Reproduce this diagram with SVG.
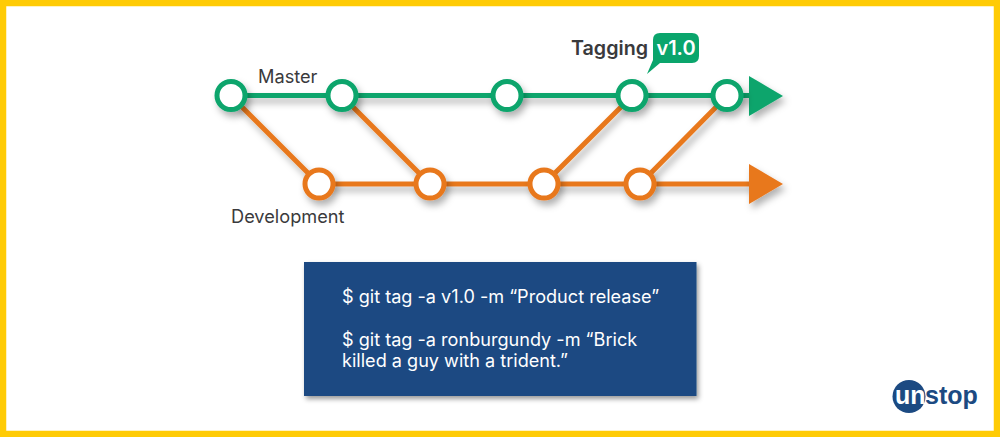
<svg xmlns="http://www.w3.org/2000/svg" width="1000" height="437" viewBox="0 0 1000 437">
<style>
.g{stroke:#0aa56c;fill:none}
.o{stroke:#e8781e;fill:none}
.l{stroke-width:5}
.n{fill:#fff;stroke-width:5}
.lab{font-family:Inter,"Liberation Sans",sans-serif;font-size:18.200px;fill:#3a3a3c}
.cmd{font-family:Inter,"Liberation Sans",sans-serif;font-size:18.100px;fill:#fff}
</style>
<defs>
<filter id="sh" filterUnits="userSpaceOnUse" x="180" y="50" width="640" height="190"><feDropShadow dx="3" dy="5" stdDeviation="3.500" flood-color="#000" flood-opacity="0.3"/></filter>
<filter id="shb" x="-5%" y="-5%" width="110%" height="115%"><feDropShadow dx="2" dy="3" stdDeviation="2.500" flood-color="#000" flood-opacity="0.4"/></filter>
</defs>
<rect width="1000" height="437" fill="#fff"/>
<rect x="3" y="3" width="994" height="431" fill="none" stroke="#ffcb05" stroke-width="6.500"/>
<g id="connectors">
<path class="o l" filter="url(#sh)" d="M231 96L319 184M342 96L430 184M544 184L632 96M640 184L727 96"/>
<path class="o l" filter="url(#sh)" d="M319 184H752"/>
<path class="g l" filter="url(#sh)" d="M231 95.500H752"/>
<polygon filter="url(#sh)" points="749,76 783,96 749,116" fill="#0aa56c"/>
<polygon filter="url(#sh)" points="749,164 783,184 749,204" fill="#e8781e"/>
</g>
<g id="m1"><circle class="g n" cx="231" cy="95.500" r="14" filter="url(#sh)"/></g>
<g id="m2"><circle class="g n" cx="342" cy="95.500" r="14" filter="url(#sh)"/></g>
<g id="m3"><circle class="g n" cx="507" cy="95.500" r="14" filter="url(#sh)"/></g>
<g id="m4"><circle class="g n" cx="632" cy="95.500" r="14" filter="url(#sh)"/></g>
<g id="m5"><circle class="g n" cx="727" cy="95.500" r="14" filter="url(#sh)"/></g>
<g id="d1"><circle class="o n" cx="319" cy="184" r="14" filter="url(#sh)"/></g>
<g id="d2"><circle class="o n" cx="430" cy="184" r="14" filter="url(#sh)"/></g>
<g id="d3"><circle class="o n" cx="544" cy="184" r="14" filter="url(#sh)"/></g>
<g id="d4"><circle class="o n" cx="640" cy="184" r="14" filter="url(#sh)"/></g>
<g id="label-master"><text class="lab" x="258" y="83">Master</text></g>
<g id="label-development"><text class="lab" x="231" y="223">Development</text></g>
<g id="tag">
<text class="lab" x="571" y="55" font-weight="600" style="font-size:19.700px">Tagging</text>
<path d="M660 33H692Q699 33 699 40V56Q699 63 692 63H660L647 74L653 60V40Q653 33 660 33Z" fill="#0aa56c"/>
<text x="676" y="55" text-anchor="middle" font-family="Inter,'Liberation Sans',sans-serif" font-size="20" font-weight="600" fill="#fff">v1.0</text>
</g>
<g id="command-box">
<rect x="304" y="262" width="392.500" height="134" fill="#1c4a82" filter="url(#shb)"/>
<text class="cmd" x="342" y="303">$ git tag -a v1.0 -m “Product release”</text>
<text class="cmd" x="342" y="346">$ git tag -a ronburgundy -m “Brick</text>
<text class="cmd" x="342" y="367">killed a guy with a trident.”</text>
</g>
<g id="logo">
<circle cx="909" cy="396.500" r="16.500" fill="#1c4a82"/>
<text x="895" y="404" font-family="'Liberation Sans',Arial,sans-serif" font-size="25" font-weight="700" fill="#fff">un</text>
<text x="925" y="404" font-family="'Liberation Sans',Arial,sans-serif" font-size="25" font-weight="700" fill="#1c4a82">stop</text>
</g>
</svg>
